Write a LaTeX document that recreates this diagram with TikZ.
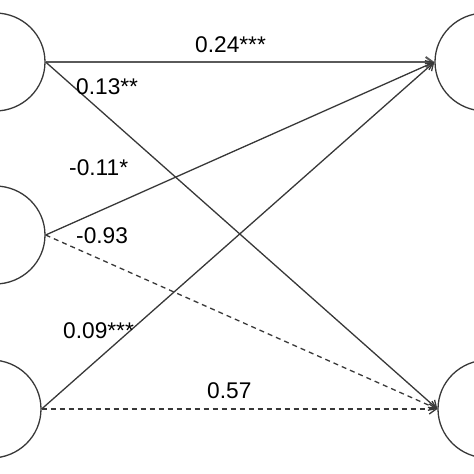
\documentclass[tikz,border=0pt]{standalone}
\usepackage{fontspec}
\setmainfont{Liberation Sans}
\usetikzlibrary{shapes.geometric,arrows.meta}
\definecolor{linegray}{HTML}{383838}
\definecolor{lightline}{HTML}{5A5A5A}
\begin{document}
\begin{tikzpicture}[x=1pt,y=-1pt,
  latent/.style={ellipse,draw=linegray,line width=1.3pt,minimum width=100pt,minimum height=98pt,inner sep=0pt},
  path/.style={draw=linegray,line width=1.3pt,-{Straight Barb[length=7pt,width=10pt]}},
  nspath/.style={path,dash pattern=on 5pt off 4pt},
  coef/.style={anchor=base west,inner sep=0pt,font=\fontsize{22.7}{26}\selectfont,text=black}]
\useasboundingbox (0,0) rectangle (474,474);
\clip (0,0) rectangle (474,474);
\node[latent] (L1) at (-5,62) {};
\node[latent] (L2) at (-5,235) {};
\node[latent] (L3) at (-9,409) {};
\node[latent] (R1) at (485,62) {};
\node[latent] (R2) at (488,409) {};
\draw[path,draw=lightline,line width=2pt] (L1.east) -- (R1.west);
\draw[path] (L1.east) -- (R2.west);
\draw[path] (L2.east) -- (R1.west);
\draw[nspath] (L2.east) -- (R2.west);
\draw[path] (L3.east) -- (R1.west);
\draw[nspath] (L3.east) -- (R2.west);
\node[coef] (c1) at (195,52) {0.24***};
\node[coef] (c2) at (76,94) {0.13**};
\node[coef] (c3) at (69,175) {-0.11*};
\node[coef] (c4) at (76,243) {-0.93};
\node[coef] (c5) at (63,338) {0.09***};
\node[coef] (c6) at (207,398) {0.57};
\end{tikzpicture}
\end{document}
